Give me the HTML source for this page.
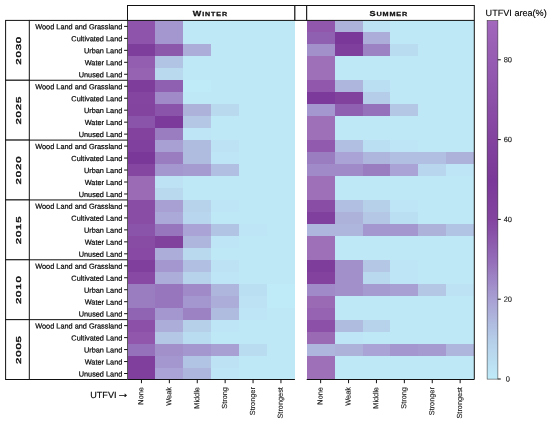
<!DOCTYPE html>
<html><head><meta charset="utf-8"><title>UTFVI heatmap</title>
<style>
html,body{margin:0;padding:0;background:#fff;}
body{width:550px;height:424px;overflow:hidden;}
svg{display:block}
text{font-family:"Liberation Sans",sans-serif;fill:#111;}
.lab{font-size:7.33px;text-anchor:end;fill:#000;stroke:#000;stroke-width:0.2px}
.yr{font-size:7.1px;text-anchor:middle;letter-spacing:0.55px;stroke:#111;stroke-width:0.4px}
.hd{font-size:7.2px;font-weight:bold;text-anchor:middle;letter-spacing:0.7px;stroke:#111;stroke-width:0.25px}
.cat{font-size:7.35px;text-anchor:end;stroke:#111;stroke-width:0.1px}
.tk{font-size:7.5px;text-anchor:middle;stroke:#111;stroke-width:0.1px}
</style></head><body>
<svg width="550" height="424" viewBox="0 0 550 424">
<defs><linearGradient id="cb" x1="0" y1="0" x2="0" y2="1"><stop offset="0.00%" stop-color="#a168bc"/><stop offset="2.22%" stop-color="#9f65ba"/><stop offset="4.44%" stop-color="#9d63b8"/><stop offset="6.67%" stop-color="#9a60b6"/><stop offset="8.89%" stop-color="#985eb4"/><stop offset="11.11%" stop-color="#965bb2"/><stop offset="13.33%" stop-color="#9459b0"/><stop offset="15.56%" stop-color="#9257ae"/><stop offset="17.78%" stop-color="#9054ac"/><stop offset="20.00%" stop-color="#8e52aa"/><stop offset="22.22%" stop-color="#8c50a8"/><stop offset="24.44%" stop-color="#8a4da6"/><stop offset="26.67%" stop-color="#884aa4"/><stop offset="28.89%" stop-color="#8648a2"/><stop offset="31.11%" stop-color="#8445a0"/><stop offset="33.33%" stop-color="#82429e"/><stop offset="35.56%" stop-color="#80409d"/><stop offset="37.78%" stop-color="#7f3e9c"/><stop offset="40.00%" stop-color="#7d3c9a"/><stop offset="42.22%" stop-color="#7c3a99"/><stop offset="44.44%" stop-color="#7a3898"/><stop offset="46.67%" stop-color="#7c3a9a"/><stop offset="48.89%" stop-color="#7e3d9b"/><stop offset="51.11%" stop-color="#7f3f9d"/><stop offset="53.33%" stop-color="#81429e"/><stop offset="55.56%" stop-color="#8344a0"/><stop offset="57.78%" stop-color="#864ca5"/><stop offset="60.00%" stop-color="#8a54aa"/><stop offset="62.22%" stop-color="#8d5cae"/><stop offset="64.44%" stop-color="#9164b3"/><stop offset="66.67%" stop-color="#946cb8"/><stop offset="68.89%" stop-color="#9876bd"/><stop offset="71.11%" stop-color="#9c81c3"/><stop offset="73.33%" stop-color="#a08bc8"/><stop offset="75.56%" stop-color="#a496ce"/><stop offset="77.78%" stop-color="#a8a0d3"/><stop offset="80.00%" stop-color="#aba9d7"/><stop offset="82.22%" stop-color="#adb2db"/><stop offset="84.44%" stop-color="#b0bbe0"/><stop offset="86.67%" stop-color="#b2c4e4"/><stop offset="88.89%" stop-color="#b5cde8"/><stop offset="91.11%" stop-color="#b7d3eb"/><stop offset="93.33%" stop-color="#b9d9ee"/><stop offset="95.56%" stop-color="#bbdff2"/><stop offset="97.78%" stop-color="#bde5f5"/><stop offset="100.00%" stop-color="#bfebf8"/></linearGradient></defs>
<rect width="550" height="424" fill="#fff"/>
<g shape-rendering="crispEdges"><rect x="127.50" y="20.40" width="28.20" height="12.27" fill="#8e53aa"/><rect x="306.70" y="20.40" width="28.20" height="12.27" fill="#9057ac"/><rect x="155.40" y="20.40" width="28.20" height="12.27" fill="#a496ce"/><rect x="334.60" y="20.40" width="28.20" height="12.27" fill="#adb2db"/><rect x="183.30" y="20.40" width="28.20" height="12.27" fill="#bee8f6"/><rect x="362.50" y="20.40" width="28.20" height="12.27" fill="#bce2f3"/><rect x="211.20" y="20.40" width="28.20" height="12.27" fill="#bee8f6"/><rect x="390.40" y="20.40" width="28.20" height="12.27" fill="#bee8f6"/><rect x="239.10" y="20.40" width="28.20" height="12.27" fill="#bee8f6"/><rect x="418.30" y="20.40" width="28.20" height="12.27" fill="#bee8f6"/><rect x="267.00" y="20.40" width="27.90" height="12.27" fill="#bee8f6"/><rect x="446.20" y="20.40" width="27.90" height="12.27" fill="#bee8f6"/><rect x="127.50" y="32.37" width="28.20" height="12.27" fill="#8e53aa"/><rect x="306.70" y="32.37" width="28.20" height="12.27" fill="#8f60b1"/><rect x="155.40" y="32.37" width="28.20" height="12.27" fill="#a496ce"/><rect x="334.60" y="32.37" width="28.20" height="12.27" fill="#7a3898"/><rect x="183.30" y="32.37" width="28.20" height="12.27" fill="#bee8f6"/><rect x="362.50" y="32.37" width="28.20" height="12.27" fill="#acaed9"/><rect x="211.20" y="32.37" width="28.20" height="12.27" fill="#bee8f6"/><rect x="390.40" y="32.37" width="28.20" height="12.27" fill="#bee8f6"/><rect x="239.10" y="32.37" width="28.20" height="12.27" fill="#bee8f6"/><rect x="418.30" y="32.37" width="28.20" height="12.27" fill="#bee8f6"/><rect x="267.00" y="32.37" width="27.90" height="12.27" fill="#bee8f6"/><rect x="446.20" y="32.37" width="27.90" height="12.27" fill="#bee8f6"/><rect x="127.50" y="44.34" width="28.20" height="12.27" fill="#7e3e9c"/><rect x="306.70" y="44.34" width="28.20" height="12.27" fill="#a290cb"/><rect x="155.40" y="44.34" width="28.20" height="12.27" fill="#8c58ac"/><rect x="334.60" y="44.34" width="28.20" height="12.27" fill="#7f3f9d"/><rect x="183.30" y="44.34" width="28.20" height="12.27" fill="#acaed9"/><rect x="362.50" y="44.34" width="28.20" height="12.27" fill="#9c81c3"/><rect x="211.20" y="44.34" width="28.20" height="12.27" fill="#bee8f6"/><rect x="390.40" y="44.34" width="28.20" height="12.27" fill="#badcf0"/><rect x="239.10" y="44.34" width="28.20" height="12.27" fill="#bee8f6"/><rect x="418.30" y="44.34" width="28.20" height="12.27" fill="#bee8f6"/><rect x="267.00" y="44.34" width="27.90" height="12.27" fill="#bee8f6"/><rect x="446.20" y="44.34" width="27.90" height="12.27" fill="#bee8f6"/><rect x="127.50" y="56.31" width="28.20" height="12.27" fill="#945eb0"/><rect x="306.70" y="56.31" width="28.20" height="12.27" fill="#9d70b7"/><rect x="155.40" y="56.31" width="28.20" height="12.27" fill="#b2c4e4"/><rect x="334.60" y="56.31" width="28.20" height="12.27" fill="#bee8f6"/><rect x="183.30" y="56.31" width="28.20" height="12.27" fill="#bee8f6"/><rect x="362.50" y="56.31" width="28.20" height="12.27" fill="#bee8f6"/><rect x="211.20" y="56.31" width="28.20" height="12.27" fill="#bee8f6"/><rect x="390.40" y="56.31" width="28.20" height="12.27" fill="#bee8f6"/><rect x="239.10" y="56.31" width="28.20" height="12.27" fill="#bee8f6"/><rect x="418.30" y="56.31" width="28.20" height="12.27" fill="#bee8f6"/><rect x="267.00" y="56.31" width="27.90" height="12.27" fill="#bee8f6"/><rect x="446.20" y="56.31" width="27.90" height="12.27" fill="#bee8f6"/><rect x="127.50" y="68.28" width="28.20" height="12.27" fill="#9663b2"/><rect x="306.70" y="68.28" width="28.20" height="12.27" fill="#9d70b7"/><rect x="155.40" y="68.28" width="28.20" height="12.27" fill="#b9d9ee"/><rect x="334.60" y="68.28" width="28.20" height="12.27" fill="#bee8f6"/><rect x="183.30" y="68.28" width="28.20" height="12.27" fill="#bee8f6"/><rect x="362.50" y="68.28" width="28.20" height="12.27" fill="#bee8f6"/><rect x="211.20" y="68.28" width="28.20" height="12.27" fill="#bee8f6"/><rect x="390.40" y="68.28" width="28.20" height="12.27" fill="#bee8f6"/><rect x="239.10" y="68.28" width="28.20" height="12.27" fill="#bee8f6"/><rect x="418.30" y="68.28" width="28.20" height="12.27" fill="#bee8f6"/><rect x="267.00" y="68.28" width="27.90" height="12.27" fill="#bee8f6"/><rect x="446.20" y="68.28" width="27.90" height="12.27" fill="#bee8f6"/><rect x="127.50" y="80.25" width="28.20" height="12.27" fill="#7e3d9b"/><rect x="306.70" y="80.25" width="28.20" height="12.27" fill="#9057ac"/><rect x="155.40" y="80.25" width="28.20" height="12.27" fill="#8f60b1"/><rect x="334.60" y="80.25" width="28.20" height="12.27" fill="#aeb6de"/><rect x="183.30" y="80.25" width="28.20" height="12.27" fill="#bfebf8"/><rect x="362.50" y="80.25" width="28.20" height="12.27" fill="#bbdff2"/><rect x="211.20" y="80.25" width="28.20" height="12.27" fill="#bee8f6"/><rect x="390.40" y="80.25" width="28.20" height="12.27" fill="#bee8f6"/><rect x="239.10" y="80.25" width="28.20" height="12.27" fill="#bee8f6"/><rect x="418.30" y="80.25" width="28.20" height="12.27" fill="#bee8f6"/><rect x="267.00" y="80.25" width="27.90" height="12.27" fill="#bee8f6"/><rect x="446.20" y="80.25" width="27.90" height="12.27" fill="#bee8f6"/><rect x="127.50" y="92.22" width="28.20" height="12.27" fill="#8445a0"/><rect x="306.70" y="92.22" width="28.20" height="12.27" fill="#7c3a9a"/><rect x="155.40" y="92.22" width="28.20" height="12.27" fill="#a08bc8"/><rect x="334.60" y="92.22" width="28.20" height="12.27" fill="#81429e"/><rect x="183.30" y="92.22" width="28.20" height="12.27" fill="#bee8f6"/><rect x="362.50" y="92.22" width="28.20" height="12.27" fill="#b5cde8"/><rect x="211.20" y="92.22" width="28.20" height="12.27" fill="#bee8f6"/><rect x="390.40" y="92.22" width="28.20" height="12.27" fill="#bee8f6"/><rect x="239.10" y="92.22" width="28.20" height="12.27" fill="#bee8f6"/><rect x="418.30" y="92.22" width="28.20" height="12.27" fill="#bee8f6"/><rect x="267.00" y="92.22" width="27.90" height="12.27" fill="#bee8f6"/><rect x="446.20" y="92.22" width="27.90" height="12.27" fill="#bee8f6"/><rect x="127.50" y="104.19" width="28.20" height="12.27" fill="#8344a0"/><rect x="306.70" y="104.19" width="28.20" height="12.27" fill="#a496ce"/><rect x="155.40" y="104.19" width="28.20" height="12.27" fill="#8a54aa"/><rect x="334.60" y="104.19" width="28.20" height="12.27" fill="#8f60b1"/><rect x="183.30" y="104.19" width="28.20" height="12.27" fill="#adb2db"/><rect x="362.50" y="104.19" width="28.20" height="12.27" fill="#9671bb"/><rect x="211.20" y="104.19" width="28.20" height="12.27" fill="#b9d9ee"/><rect x="390.40" y="104.19" width="28.20" height="12.27" fill="#b4c8e6"/><rect x="239.10" y="104.19" width="28.20" height="12.27" fill="#bee8f6"/><rect x="418.30" y="104.19" width="28.20" height="12.27" fill="#bee8f6"/><rect x="267.00" y="104.19" width="27.90" height="12.27" fill="#bee8f6"/><rect x="446.20" y="104.19" width="27.90" height="12.27" fill="#bee8f6"/><rect x="127.50" y="116.16" width="28.20" height="12.27" fill="#8a54aa"/><rect x="306.70" y="116.16" width="28.20" height="12.27" fill="#9d70b7"/><rect x="155.40" y="116.16" width="28.20" height="12.27" fill="#7c3a9a"/><rect x="334.60" y="116.16" width="28.20" height="12.27" fill="#bee8f6"/><rect x="183.30" y="116.16" width="28.20" height="12.27" fill="#b4c8e6"/><rect x="362.50" y="116.16" width="28.20" height="12.27" fill="#bee8f6"/><rect x="211.20" y="116.16" width="28.20" height="12.27" fill="#bee8f6"/><rect x="390.40" y="116.16" width="28.20" height="12.27" fill="#bee8f6"/><rect x="239.10" y="116.16" width="28.20" height="12.27" fill="#bee8f6"/><rect x="418.30" y="116.16" width="28.20" height="12.27" fill="#bee8f6"/><rect x="267.00" y="116.16" width="27.90" height="12.27" fill="#bee8f6"/><rect x="446.20" y="116.16" width="27.90" height="12.27" fill="#bee8f6"/><rect x="127.50" y="128.13" width="28.20" height="12.27" fill="#82429e"/><rect x="306.70" y="128.13" width="28.20" height="12.27" fill="#9d70b7"/><rect x="155.40" y="128.13" width="28.20" height="12.27" fill="#9a7cc0"/><rect x="334.60" y="128.13" width="28.20" height="12.27" fill="#bee8f6"/><rect x="183.30" y="128.13" width="28.20" height="12.27" fill="#bde5f5"/><rect x="362.50" y="128.13" width="28.20" height="12.27" fill="#bee8f6"/><rect x="211.20" y="128.13" width="28.20" height="12.27" fill="#bee8f6"/><rect x="390.40" y="128.13" width="28.20" height="12.27" fill="#bee8f6"/><rect x="239.10" y="128.13" width="28.20" height="12.27" fill="#bee8f6"/><rect x="418.30" y="128.13" width="28.20" height="12.27" fill="#bee8f6"/><rect x="267.00" y="128.13" width="27.90" height="12.27" fill="#bee8f6"/><rect x="446.20" y="128.13" width="27.90" height="12.27" fill="#bee8f6"/><rect x="127.50" y="140.10" width="28.20" height="12.27" fill="#80409d"/><rect x="306.70" y="140.10" width="28.20" height="12.27" fill="#925aae"/><rect x="155.40" y="140.10" width="28.20" height="12.27" fill="#a8a0d3"/><rect x="334.60" y="140.10" width="28.20" height="12.27" fill="#b1c0e2"/><rect x="183.30" y="140.10" width="28.20" height="12.27" fill="#b0bbe0"/><rect x="362.50" y="140.10" width="28.20" height="12.27" fill="#bbdff2"/><rect x="211.20" y="140.10" width="28.20" height="12.27" fill="#bce2f3"/><rect x="390.40" y="140.10" width="28.20" height="12.27" fill="#bde5f5"/><rect x="239.10" y="140.10" width="28.20" height="12.27" fill="#bee8f6"/><rect x="418.30" y="140.10" width="28.20" height="12.27" fill="#bee8f6"/><rect x="267.00" y="140.10" width="27.90" height="12.27" fill="#bee8f6"/><rect x="446.20" y="140.10" width="27.90" height="12.27" fill="#bee8f6"/><rect x="127.50" y="152.07" width="28.20" height="12.27" fill="#7a3898"/><rect x="306.70" y="152.07" width="28.20" height="12.27" fill="#9a7cc0"/><rect x="155.40" y="152.07" width="28.20" height="12.27" fill="#9a7cc0"/><rect x="334.60" y="152.07" width="28.20" height="12.27" fill="#a9a4d5"/><rect x="183.30" y="152.07" width="28.20" height="12.27" fill="#b0bbe0"/><rect x="362.50" y="152.07" width="28.20" height="12.27" fill="#aeb6de"/><rect x="211.20" y="152.07" width="28.20" height="12.27" fill="#bde5f5"/><rect x="390.40" y="152.07" width="28.20" height="12.27" fill="#b1c0e2"/><rect x="239.10" y="152.07" width="28.20" height="12.27" fill="#bee8f6"/><rect x="418.30" y="152.07" width="28.20" height="12.27" fill="#b1c0e2"/><rect x="267.00" y="152.07" width="27.90" height="12.27" fill="#bee8f6"/><rect x="446.20" y="152.07" width="27.90" height="12.27" fill="#adb2db"/><rect x="127.50" y="164.04" width="28.20" height="12.27" fill="#8546a1"/><rect x="306.70" y="164.04" width="28.20" height="12.27" fill="#a08bc8"/><rect x="155.40" y="164.04" width="28.20" height="12.27" fill="#a496ce"/><rect x="334.60" y="164.04" width="28.20" height="12.27" fill="#a08bc8"/><rect x="183.30" y="164.04" width="28.20" height="12.27" fill="#a69bd0"/><rect x="362.50" y="164.04" width="28.20" height="12.27" fill="#9a7cc0"/><rect x="211.20" y="164.04" width="28.20" height="12.27" fill="#b1c0e2"/><rect x="390.40" y="164.04" width="28.20" height="12.27" fill="#a9a4d5"/><rect x="239.10" y="164.04" width="28.20" height="12.27" fill="#bee8f6"/><rect x="418.30" y="164.04" width="28.20" height="12.27" fill="#b8d6ed"/><rect x="267.00" y="164.04" width="27.90" height="12.27" fill="#bee8f6"/><rect x="446.20" y="164.04" width="27.90" height="12.27" fill="#bde5f5"/><rect x="127.50" y="176.01" width="28.20" height="12.27" fill="#9b6cb5"/><rect x="306.70" y="176.01" width="28.20" height="12.27" fill="#9d70b7"/><rect x="155.40" y="176.01" width="28.20" height="12.27" fill="#bce2f3"/><rect x="334.60" y="176.01" width="28.20" height="12.27" fill="#bee8f6"/><rect x="183.30" y="176.01" width="28.20" height="12.27" fill="#bee8f6"/><rect x="362.50" y="176.01" width="28.20" height="12.27" fill="#bee8f6"/><rect x="211.20" y="176.01" width="28.20" height="12.27" fill="#bee8f6"/><rect x="390.40" y="176.01" width="28.20" height="12.27" fill="#bee8f6"/><rect x="239.10" y="176.01" width="28.20" height="12.27" fill="#bee8f6"/><rect x="418.30" y="176.01" width="28.20" height="12.27" fill="#bee8f6"/><rect x="267.00" y="176.01" width="27.90" height="12.27" fill="#bee8f6"/><rect x="446.20" y="176.01" width="27.90" height="12.27" fill="#bee8f6"/><rect x="127.50" y="187.98" width="28.20" height="12.27" fill="#9b6cb5"/><rect x="306.70" y="187.98" width="28.20" height="12.27" fill="#9d70b7"/><rect x="155.40" y="187.98" width="28.20" height="12.27" fill="#b9d9ee"/><rect x="334.60" y="187.98" width="28.20" height="12.27" fill="#bee8f6"/><rect x="183.30" y="187.98" width="28.20" height="12.27" fill="#bee8f6"/><rect x="362.50" y="187.98" width="28.20" height="12.27" fill="#bee8f6"/><rect x="211.20" y="187.98" width="28.20" height="12.27" fill="#bee8f6"/><rect x="390.40" y="187.98" width="28.20" height="12.27" fill="#bee8f6"/><rect x="239.10" y="187.98" width="28.20" height="12.27" fill="#bee8f6"/><rect x="418.30" y="187.98" width="28.20" height="12.27" fill="#bee8f6"/><rect x="267.00" y="187.98" width="27.90" height="12.27" fill="#bee8f6"/><rect x="446.20" y="187.98" width="27.90" height="12.27" fill="#bee8f6"/><rect x="127.50" y="199.95" width="28.20" height="12.27" fill="#8a4da6"/><rect x="306.70" y="199.95" width="28.20" height="12.27" fill="#8a4da6"/><rect x="155.40" y="199.95" width="28.20" height="12.27" fill="#a8a0d3"/><rect x="334.60" y="199.95" width="28.20" height="12.27" fill="#b1c0e2"/><rect x="183.30" y="199.95" width="28.20" height="12.27" fill="#b7d3eb"/><rect x="362.50" y="199.95" width="28.20" height="12.27" fill="#b6d0ea"/><rect x="211.20" y="199.95" width="28.20" height="12.27" fill="#bde5f5"/><rect x="390.40" y="199.95" width="28.20" height="12.27" fill="#bde5f5"/><rect x="239.10" y="199.95" width="28.20" height="12.27" fill="#bee8f6"/><rect x="418.30" y="199.95" width="28.20" height="12.27" fill="#bee8f6"/><rect x="267.00" y="199.95" width="27.90" height="12.27" fill="#bee8f6"/><rect x="446.20" y="199.95" width="27.90" height="12.27" fill="#bee8f6"/><rect x="127.50" y="211.92" width="28.20" height="12.27" fill="#8a4da6"/><rect x="306.70" y="211.92" width="28.20" height="12.27" fill="#80409d"/><rect x="155.40" y="211.92" width="28.20" height="12.27" fill="#aba9d7"/><rect x="334.60" y="211.92" width="28.20" height="12.27" fill="#adb2db"/><rect x="183.30" y="211.92" width="28.20" height="12.27" fill="#b8d6ed"/><rect x="362.50" y="211.92" width="28.20" height="12.27" fill="#b4c8e6"/><rect x="211.20" y="211.92" width="28.20" height="12.27" fill="#bee8f6"/><rect x="390.40" y="211.92" width="28.20" height="12.27" fill="#bbdff2"/><rect x="239.10" y="211.92" width="28.20" height="12.27" fill="#bee8f6"/><rect x="418.30" y="211.92" width="28.20" height="12.27" fill="#bee8f6"/><rect x="267.00" y="211.92" width="27.90" height="12.27" fill="#bee8f6"/><rect x="446.20" y="211.92" width="27.90" height="12.27" fill="#bee8f6"/><rect x="127.50" y="223.89" width="28.20" height="12.27" fill="#8a54aa"/><rect x="306.70" y="223.89" width="28.20" height="12.27" fill="#aeb6de"/><rect x="155.40" y="223.89" width="28.20" height="12.27" fill="#9876bd"/><rect x="334.60" y="223.89" width="28.20" height="12.27" fill="#aeb6de"/><rect x="183.30" y="223.89" width="28.20" height="12.27" fill="#a9a4d5"/><rect x="362.50" y="223.89" width="28.20" height="12.27" fill="#a496ce"/><rect x="211.20" y="223.89" width="28.20" height="12.27" fill="#b2c4e4"/><rect x="390.40" y="223.89" width="28.20" height="12.27" fill="#a496ce"/><rect x="239.10" y="223.89" width="28.20" height="12.27" fill="#bde5f5"/><rect x="418.30" y="223.89" width="28.20" height="12.27" fill="#adb2db"/><rect x="267.00" y="223.89" width="27.90" height="12.27" fill="#bee8f6"/><rect x="446.20" y="223.89" width="27.90" height="12.27" fill="#b2c4e4"/><rect x="127.50" y="235.86" width="28.20" height="12.27" fill="#894ca5"/><rect x="306.70" y="235.86" width="28.20" height="12.27" fill="#9d70b7"/><rect x="155.40" y="235.86" width="28.20" height="12.27" fill="#81429e"/><rect x="334.60" y="235.86" width="28.20" height="12.27" fill="#bee8f6"/><rect x="183.30" y="235.86" width="28.20" height="12.27" fill="#aeb6de"/><rect x="362.50" y="235.86" width="28.20" height="12.27" fill="#bee8f6"/><rect x="211.20" y="235.86" width="28.20" height="12.27" fill="#bde5f5"/><rect x="390.40" y="235.86" width="28.20" height="12.27" fill="#bee8f6"/><rect x="239.10" y="235.86" width="28.20" height="12.27" fill="#bee8f6"/><rect x="418.30" y="235.86" width="28.20" height="12.27" fill="#bee8f6"/><rect x="267.00" y="235.86" width="27.90" height="12.27" fill="#bee8f6"/><rect x="446.20" y="235.86" width="27.90" height="12.27" fill="#bee8f6"/><rect x="127.50" y="247.83" width="28.20" height="12.27" fill="#8749a3"/><rect x="306.70" y="247.83" width="28.20" height="12.27" fill="#9d70b7"/><rect x="155.40" y="247.83" width="28.20" height="12.27" fill="#acaed9"/><rect x="334.60" y="247.83" width="28.20" height="12.27" fill="#bee8f6"/><rect x="183.30" y="247.83" width="28.20" height="12.27" fill="#b9d9ee"/><rect x="362.50" y="247.83" width="28.20" height="12.27" fill="#bee8f6"/><rect x="211.20" y="247.83" width="28.20" height="12.27" fill="#bee8f6"/><rect x="390.40" y="247.83" width="28.20" height="12.27" fill="#bee8f6"/><rect x="239.10" y="247.83" width="28.20" height="12.27" fill="#bee8f6"/><rect x="418.30" y="247.83" width="28.20" height="12.27" fill="#bee8f6"/><rect x="267.00" y="247.83" width="27.90" height="12.27" fill="#bee8f6"/><rect x="446.20" y="247.83" width="27.90" height="12.27" fill="#bee8f6"/><rect x="127.50" y="259.80" width="28.20" height="12.27" fill="#803f9c"/><rect x="306.70" y="259.80" width="28.20" height="12.27" fill="#7e3d9b"/><rect x="155.40" y="259.80" width="28.20" height="12.27" fill="#a496ce"/><rect x="334.60" y="259.80" width="28.20" height="12.27" fill="#a290cb"/><rect x="183.30" y="259.80" width="28.20" height="12.27" fill="#b1c0e2"/><rect x="362.50" y="259.80" width="28.20" height="12.27" fill="#b4c8e6"/><rect x="211.20" y="259.80" width="28.20" height="12.27" fill="#bce2f3"/><rect x="390.40" y="259.80" width="28.20" height="12.27" fill="#bde5f5"/><rect x="239.10" y="259.80" width="28.20" height="12.27" fill="#bee8f6"/><rect x="418.30" y="259.80" width="28.20" height="12.27" fill="#bee8f6"/><rect x="267.00" y="259.80" width="27.90" height="12.27" fill="#bee8f6"/><rect x="446.20" y="259.80" width="27.90" height="12.27" fill="#bee8f6"/><rect x="127.50" y="271.77" width="28.20" height="12.27" fill="#8749a3"/><rect x="306.70" y="271.77" width="28.20" height="12.27" fill="#82429e"/><rect x="155.40" y="271.77" width="28.20" height="12.27" fill="#acaed9"/><rect x="334.60" y="271.77" width="28.20" height="12.27" fill="#a290cb"/><rect x="183.30" y="271.77" width="28.20" height="12.27" fill="#b7d3eb"/><rect x="362.50" y="271.77" width="28.20" height="12.27" fill="#b9d9ee"/><rect x="211.20" y="271.77" width="28.20" height="12.27" fill="#bde5f5"/><rect x="390.40" y="271.77" width="28.20" height="12.27" fill="#bde5f5"/><rect x="239.10" y="271.77" width="28.20" height="12.27" fill="#bee8f6"/><rect x="418.30" y="271.77" width="28.20" height="12.27" fill="#bee8f6"/><rect x="267.00" y="271.77" width="27.90" height="12.27" fill="#bee8f6"/><rect x="446.20" y="271.77" width="27.90" height="12.27" fill="#bee8f6"/><rect x="127.50" y="283.74" width="28.20" height="12.27" fill="#9a7cc0"/><rect x="306.70" y="283.74" width="28.20" height="12.27" fill="#a08bc8"/><rect x="155.40" y="283.74" width="28.20" height="12.27" fill="#9876bd"/><rect x="334.60" y="283.74" width="28.20" height="12.27" fill="#a290cb"/><rect x="183.30" y="283.74" width="28.20" height="12.27" fill="#a08bc8"/><rect x="362.50" y="283.74" width="28.20" height="12.27" fill="#a69bd0"/><rect x="211.20" y="283.74" width="28.20" height="12.27" fill="#aeb6de"/><rect x="390.40" y="283.74" width="28.20" height="12.27" fill="#a8a0d3"/><rect x="239.10" y="283.74" width="28.20" height="12.27" fill="#bbdff2"/><rect x="418.30" y="283.74" width="28.20" height="12.27" fill="#b4c8e6"/><rect x="267.00" y="283.74" width="27.90" height="12.27" fill="#bfebf8"/><rect x="446.20" y="283.74" width="27.90" height="12.27" fill="#bce2f3"/><rect x="127.50" y="295.71" width="28.20" height="12.27" fill="#9a7cc0"/><rect x="306.70" y="295.71" width="28.20" height="12.27" fill="#9a6ab4"/><rect x="155.40" y="295.71" width="28.20" height="12.27" fill="#9876bd"/><rect x="334.60" y="295.71" width="28.20" height="12.27" fill="#bee8f6"/><rect x="183.30" y="295.71" width="28.20" height="12.27" fill="#a496ce"/><rect x="362.50" y="295.71" width="28.20" height="12.27" fill="#bee8f6"/><rect x="211.20" y="295.71" width="28.20" height="12.27" fill="#acaed9"/><rect x="390.40" y="295.71" width="28.20" height="12.27" fill="#bee8f6"/><rect x="239.10" y="295.71" width="28.20" height="12.27" fill="#bce2f3"/><rect x="418.30" y="295.71" width="28.20" height="12.27" fill="#bee8f6"/><rect x="267.00" y="295.71" width="27.90" height="12.27" fill="#bfebf8"/><rect x="446.20" y="295.71" width="27.90" height="12.27" fill="#bee8f6"/><rect x="127.50" y="307.68" width="28.20" height="12.27" fill="#9164b3"/><rect x="306.70" y="307.68" width="28.20" height="12.27" fill="#9663b2"/><rect x="155.40" y="307.68" width="28.20" height="12.27" fill="#a496ce"/><rect x="334.60" y="307.68" width="28.20" height="12.27" fill="#bee8f6"/><rect x="183.30" y="307.68" width="28.20" height="12.27" fill="#9c81c3"/><rect x="362.50" y="307.68" width="28.20" height="12.27" fill="#bee8f6"/><rect x="211.20" y="307.68" width="28.20" height="12.27" fill="#b0bbe0"/><rect x="390.40" y="307.68" width="28.20" height="12.27" fill="#bee8f6"/><rect x="239.10" y="307.68" width="28.20" height="12.27" fill="#bde5f5"/><rect x="418.30" y="307.68" width="28.20" height="12.27" fill="#bee8f6"/><rect x="267.00" y="307.68" width="27.90" height="12.27" fill="#bee8f6"/><rect x="446.20" y="307.68" width="27.90" height="12.27" fill="#bee8f6"/><rect x="127.50" y="319.65" width="28.20" height="12.27" fill="#8c50a8"/><rect x="306.70" y="319.65" width="28.20" height="12.27" fill="#8c50a8"/><rect x="155.40" y="319.65" width="28.20" height="12.27" fill="#acaed9"/><rect x="334.60" y="319.65" width="28.20" height="12.27" fill="#b0bbe0"/><rect x="183.30" y="319.65" width="28.20" height="12.27" fill="#b6d0ea"/><rect x="362.50" y="319.65" width="28.20" height="12.27" fill="#b7d3eb"/><rect x="211.20" y="319.65" width="28.20" height="12.27" fill="#bde5f5"/><rect x="390.40" y="319.65" width="28.20" height="12.27" fill="#bee8f6"/><rect x="239.10" y="319.65" width="28.20" height="12.27" fill="#bee8f6"/><rect x="418.30" y="319.65" width="28.20" height="12.27" fill="#bee8f6"/><rect x="267.00" y="319.65" width="27.90" height="12.27" fill="#bee8f6"/><rect x="446.20" y="319.65" width="27.90" height="12.27" fill="#bee8f6"/><rect x="127.50" y="331.62" width="28.20" height="12.27" fill="#9057ac"/><rect x="306.70" y="331.62" width="28.20" height="12.27" fill="#9a6ab4"/><rect x="155.40" y="331.62" width="28.20" height="12.27" fill="#b4c8e6"/><rect x="334.60" y="331.62" width="28.20" height="12.27" fill="#bde5f5"/><rect x="183.30" y="331.62" width="28.20" height="12.27" fill="#badcf0"/><rect x="362.50" y="331.62" width="28.20" height="12.27" fill="#bee8f6"/><rect x="211.20" y="331.62" width="28.20" height="12.27" fill="#bee8f6"/><rect x="390.40" y="331.62" width="28.20" height="12.27" fill="#bee8f6"/><rect x="239.10" y="331.62" width="28.20" height="12.27" fill="#bee8f6"/><rect x="418.30" y="331.62" width="28.20" height="12.27" fill="#bee8f6"/><rect x="267.00" y="331.62" width="27.90" height="12.27" fill="#bee8f6"/><rect x="446.20" y="331.62" width="27.90" height="12.27" fill="#bee8f6"/><rect x="127.50" y="343.59" width="28.20" height="12.27" fill="#9671bb"/><rect x="306.70" y="343.59" width="28.20" height="12.27" fill="#aeb6de"/><rect x="155.40" y="343.59" width="28.20" height="12.27" fill="#a290cb"/><rect x="334.60" y="343.59" width="28.20" height="12.27" fill="#adb2db"/><rect x="183.30" y="343.59" width="28.20" height="12.27" fill="#a496ce"/><rect x="362.50" y="343.59" width="28.20" height="12.27" fill="#a9a4d5"/><rect x="211.20" y="343.59" width="28.20" height="12.27" fill="#a8a0d3"/><rect x="390.40" y="343.59" width="28.20" height="12.27" fill="#a496ce"/><rect x="239.10" y="343.59" width="28.20" height="12.27" fill="#badcf0"/><rect x="418.30" y="343.59" width="28.20" height="12.27" fill="#a69bd0"/><rect x="267.00" y="343.59" width="27.90" height="12.27" fill="#bee8f6"/><rect x="446.20" y="343.59" width="27.90" height="12.27" fill="#aeb6de"/><rect x="127.50" y="355.56" width="28.20" height="12.27" fill="#803f9c"/><rect x="306.70" y="355.56" width="28.20" height="12.27" fill="#9d70b7"/><rect x="155.40" y="355.56" width="28.20" height="12.27" fill="#a496ce"/><rect x="334.60" y="355.56" width="28.20" height="12.27" fill="#bee8f6"/><rect x="183.30" y="355.56" width="28.20" height="12.27" fill="#b2c4e4"/><rect x="362.50" y="355.56" width="28.20" height="12.27" fill="#bee8f6"/><rect x="211.20" y="355.56" width="28.20" height="12.27" fill="#bce2f3"/><rect x="390.40" y="355.56" width="28.20" height="12.27" fill="#bee8f6"/><rect x="239.10" y="355.56" width="28.20" height="12.27" fill="#bee8f6"/><rect x="418.30" y="355.56" width="28.20" height="12.27" fill="#bee8f6"/><rect x="267.00" y="355.56" width="27.90" height="12.27" fill="#bee8f6"/><rect x="446.20" y="355.56" width="27.90" height="12.27" fill="#bee8f6"/><rect x="127.50" y="367.53" width="28.20" height="12.27" fill="#803f9c"/><rect x="306.70" y="367.53" width="28.20" height="12.27" fill="#9d70b7"/><rect x="155.40" y="367.53" width="28.20" height="12.27" fill="#a9a4d5"/><rect x="334.60" y="367.53" width="28.20" height="12.27" fill="#bee8f6"/><rect x="183.30" y="367.53" width="28.20" height="12.27" fill="#aeb6de"/><rect x="362.50" y="367.53" width="28.20" height="12.27" fill="#bee8f6"/><rect x="211.20" y="367.53" width="28.20" height="12.27" fill="#bde5f5"/><rect x="390.40" y="367.53" width="28.20" height="12.27" fill="#bee8f6"/><rect x="239.10" y="367.53" width="28.20" height="12.27" fill="#bee8f6"/><rect x="418.30" y="367.53" width="28.20" height="12.27" fill="#bee8f6"/><rect x="267.00" y="367.53" width="27.90" height="12.27" fill="#bee8f6"/><rect x="446.20" y="367.53" width="27.90" height="12.27" fill="#bee8f6"/></g>
<g fill="none" stroke="#111" stroke-width="1">
<rect x="127.5" y="5.5" width="167.4" height="14.899999999999999" fill="#fff"/>
<rect x="294.9" y="5.5" width="11.799999999999983" height="14.899999999999999" fill="#fff"/>
<rect x="306.7" y="5.5" width="167.6" height="14.899999999999999" fill="#fff"/>
<rect x="5.6" y="20.40" width="23.7" height="59.85" fill="#fff"/>
<line x1="29.3" y1="20.40" x2="127.5" y2="20.40"/>
<rect x="5.6" y="80.25" width="23.7" height="59.85" fill="#fff"/>
<line x1="29.3" y1="80.25" x2="127.5" y2="80.25"/>
<rect x="5.6" y="140.10" width="23.7" height="59.85" fill="#fff"/>
<line x1="29.3" y1="140.10" x2="127.5" y2="140.10"/>
<rect x="5.6" y="199.95" width="23.7" height="59.85" fill="#fff"/>
<line x1="29.3" y1="199.95" x2="127.5" y2="199.95"/>
<rect x="5.6" y="259.80" width="23.7" height="59.85" fill="#fff"/>
<line x1="29.3" y1="259.80" x2="127.5" y2="259.80"/>
<rect x="5.6" y="319.65" width="23.7" height="59.85" fill="#fff"/>
<line x1="29.3" y1="319.65" x2="127.5" y2="319.65"/>
<line x1="29.3" y1="379.50" x2="127.5" y2="379.50"/>
<line x1="127.5" y1="20.4" x2="127.5" y2="379.50" stroke-width="0.7"/>
<line x1="127.5" y1="379.50" x2="294.9" y2="379.50"/>
<line x1="306.7" y1="379.50" x2="474.3" y2="379.50"/>
<line x1="474.3" y1="20.4" x2="474.3" y2="379.50"/>
<line x1="124.1" y1="26.38" x2="127.5" y2="26.38"/>
<line x1="124.1" y1="38.36" x2="127.5" y2="38.36"/>
<line x1="124.1" y1="50.33" x2="127.5" y2="50.33"/>
<line x1="124.1" y1="62.30" x2="127.5" y2="62.30"/>
<line x1="124.1" y1="74.27" x2="127.5" y2="74.27"/>
<line x1="124.1" y1="86.24" x2="127.5" y2="86.24"/>
<line x1="124.1" y1="98.21" x2="127.5" y2="98.21"/>
<line x1="124.1" y1="110.18" x2="127.5" y2="110.18"/>
<line x1="124.1" y1="122.15" x2="127.5" y2="122.15"/>
<line x1="124.1" y1="134.12" x2="127.5" y2="134.12"/>
<line x1="124.1" y1="146.09" x2="127.5" y2="146.09"/>
<line x1="124.1" y1="158.06" x2="127.5" y2="158.06"/>
<line x1="124.1" y1="170.03" x2="127.5" y2="170.03"/>
<line x1="124.1" y1="182.00" x2="127.5" y2="182.00"/>
<line x1="124.1" y1="193.97" x2="127.5" y2="193.97"/>
<line x1="124.1" y1="205.94" x2="127.5" y2="205.94"/>
<line x1="124.1" y1="217.91" x2="127.5" y2="217.91"/>
<line x1="124.1" y1="229.88" x2="127.5" y2="229.88"/>
<line x1="124.1" y1="241.85" x2="127.5" y2="241.85"/>
<line x1="124.1" y1="253.82" x2="127.5" y2="253.82"/>
<line x1="124.1" y1="265.79" x2="127.5" y2="265.79"/>
<line x1="124.1" y1="277.75" x2="127.5" y2="277.75"/>
<line x1="124.1" y1="289.72" x2="127.5" y2="289.72"/>
<line x1="124.1" y1="301.69" x2="127.5" y2="301.69"/>
<line x1="124.1" y1="313.67" x2="127.5" y2="313.67"/>
<line x1="124.1" y1="325.63" x2="127.5" y2="325.63"/>
<line x1="124.1" y1="337.61" x2="127.5" y2="337.61"/>
<line x1="124.1" y1="349.57" x2="127.5" y2="349.57"/>
<line x1="124.1" y1="361.55" x2="127.5" y2="361.55"/>
<line x1="124.1" y1="373.51" x2="127.5" y2="373.51"/>
<line x1="141.45" y1="379.50" x2="141.45" y2="383.20"/>
<line x1="320.65" y1="379.50" x2="320.65" y2="383.20"/>
<line x1="169.35" y1="379.50" x2="169.35" y2="383.20"/>
<line x1="348.55" y1="379.50" x2="348.55" y2="383.20"/>
<line x1="197.25" y1="379.50" x2="197.25" y2="383.20"/>
<line x1="376.45" y1="379.50" x2="376.45" y2="383.20"/>
<line x1="225.15" y1="379.50" x2="225.15" y2="383.20"/>
<line x1="404.35" y1="379.50" x2="404.35" y2="383.20"/>
<line x1="253.05" y1="379.50" x2="253.05" y2="383.20"/>
<line x1="432.25" y1="379.50" x2="432.25" y2="383.20"/>
<line x1="280.95" y1="379.50" x2="280.95" y2="383.20"/>
<line x1="460.15" y1="379.50" x2="460.15" y2="383.20"/>
</g>
<rect x="487.1" y="20.5" width="10.8" height="358.60" fill="url(#cb)" stroke="#2a2a2a" stroke-width="0.5"/>
<line x1="497.8" y1="379.00" x2="500.8" y2="379.00" stroke="#111" stroke-width="1"/>
<text class="tk" transform="translate(507.8,381.50) rotate(0.03)">0</text>
<line x1="497.8" y1="299.20" x2="500.8" y2="299.20" stroke="#111" stroke-width="1"/>
<text class="tk" transform="translate(507.8,301.70) rotate(0.03)">20</text>
<line x1="497.8" y1="219.40" x2="500.8" y2="219.40" stroke="#111" stroke-width="1"/>
<text class="tk" transform="translate(507.8,221.90) rotate(0.03)">40</text>
<line x1="497.8" y1="139.60" x2="500.8" y2="139.60" stroke="#111" stroke-width="1"/>
<text class="tk" transform="translate(507.8,142.10) rotate(0.03)">60</text>
<line x1="497.8" y1="59.80" x2="500.8" y2="59.80" stroke="#111" stroke-width="1"/>
<text class="tk" transform="translate(507.8,62.30) rotate(0.03)">80</text>
<text transform="translate(485.6,15.9) rotate(0.03)" style="font-size:9.1px;fill:#000;stroke:#000;stroke-width:0.12px">UTFVI area(%)</text>
<text class="yr" transform="translate(20.9,50.33) rotate(-89.97) scale(1.6,1)">2030</text>
<text class="lab" transform="translate(122.30,29.33) rotate(0.03)">Wood Land and Grassland</text>
<text class="lab" transform="translate(122.30,41.31) rotate(0.03)">Cultivated Land</text>
<text class="lab" transform="translate(122.30,53.28) rotate(0.03)">Urban Land</text>
<text class="lab" transform="translate(122.30,65.25) rotate(0.03)">Water Land</text>
<text class="lab" transform="translate(122.30,77.22) rotate(0.03)">Unused Land</text>
<text class="yr" transform="translate(20.9,110.18) rotate(-89.97) scale(1.6,1)">2025</text>
<text class="lab" transform="translate(122.30,89.19) rotate(0.03)">Wood Land and Grassland</text>
<text class="lab" transform="translate(122.30,101.16) rotate(0.03)">Cultivated Land</text>
<text class="lab" transform="translate(122.30,113.13) rotate(0.03)">Urban Land</text>
<text class="lab" transform="translate(122.30,125.10) rotate(0.03)">Water Land</text>
<text class="lab" transform="translate(122.30,137.06) rotate(0.03)">Unused Land</text>
<text class="yr" transform="translate(20.9,170.03) rotate(-89.97) scale(1.6,1)">2020</text>
<text class="lab" transform="translate(122.30,149.03) rotate(0.03)">Wood Land and Grassland</text>
<text class="lab" transform="translate(122.30,161.00) rotate(0.03)">Cultivated Land</text>
<text class="lab" transform="translate(122.30,172.97) rotate(0.03)">Urban Land</text>
<text class="lab" transform="translate(122.30,184.94) rotate(0.03)">Water Land</text>
<text class="lab" transform="translate(122.30,196.91) rotate(0.03)">Unused Land</text>
<text class="yr" transform="translate(20.9,229.88) rotate(-89.97) scale(1.6,1)">2015</text>
<text class="lab" transform="translate(122.30,208.88) rotate(0.03)">Wood Land and Grassland</text>
<text class="lab" transform="translate(122.30,220.86) rotate(0.03)">Cultivated Land</text>
<text class="lab" transform="translate(122.30,232.83) rotate(0.03)">Urban Land</text>
<text class="lab" transform="translate(122.30,244.80) rotate(0.03)">Water Land</text>
<text class="lab" transform="translate(122.30,256.77) rotate(0.03)">Unused Land</text>
<text class="yr" transform="translate(20.9,289.72) rotate(-89.97) scale(1.6,1)">2010</text>
<text class="lab" transform="translate(122.30,268.74) rotate(0.03)">Wood Land and Grassland</text>
<text class="lab" transform="translate(122.30,280.70) rotate(0.03)">Cultivated Land</text>
<text class="lab" transform="translate(122.30,292.67) rotate(0.03)">Urban Land</text>
<text class="lab" transform="translate(122.30,304.64) rotate(0.03)">Water Land</text>
<text class="lab" transform="translate(122.30,316.62) rotate(0.03)">Unused Land</text>
<text class="yr" transform="translate(20.9,349.57) rotate(-89.97) scale(1.6,1)">2005</text>
<text class="lab" transform="translate(122.30,328.58) rotate(0.03)">Wood Land and Grassland</text>
<text class="lab" transform="translate(122.30,340.56) rotate(0.03)">Cultivated Land</text>
<text class="lab" transform="translate(122.30,352.52) rotate(0.03)">Urban Land</text>
<text class="lab" transform="translate(122.30,364.50) rotate(0.03)">Water Land</text>
<text class="lab" transform="translate(122.30,376.46) rotate(0.03)">Unused Land</text>
<text class="hd" transform="translate(210.39999999999998,15.8) scale(1.25,1)">W<tspan font-size="5.7px">INTER</tspan></text>
<text class="hd" transform="translate(388.79999999999995,15.8) scale(1.27,1)">S<tspan font-size="5.7px">UMMER</tspan></text>
<text class="cat" transform="translate(143.35,387.10) rotate(-89.97)">None</text>
<text class="cat" transform="translate(322.55,387.10) rotate(-89.97)">None</text>
<text class="cat" transform="translate(171.25,387.10) rotate(-89.97)">Weak</text>
<text class="cat" transform="translate(350.45,387.10) rotate(-89.97)">Weak</text>
<text class="cat" transform="translate(199.15,387.10) rotate(-89.97)">Middle</text>
<text class="cat" transform="translate(378.35,387.10) rotate(-89.97)">Middle</text>
<text class="cat" transform="translate(227.05,387.10) rotate(-89.97)">Strong</text>
<text class="cat" transform="translate(406.25,387.10) rotate(-89.97)">Strong</text>
<text class="cat" transform="translate(254.95,387.10) rotate(-89.97)">Stronger</text>
<text class="cat" transform="translate(434.15,387.10) rotate(-89.97)">Stronger</text>
<text class="cat" transform="translate(282.85,387.10) rotate(-89.97)">Strongest</text>
<text class="cat" transform="translate(462.05,387.10) rotate(-89.97)">Strongest</text>
<text transform="translate(90.2,398.1) rotate(0.03)" style="font-size:9.1px;fill:#000;stroke:#000;stroke-width:0.15px">UTFVI<tspan style="font-size:12.5px;stroke-width:0.3px" dx="0.4" dy="-0.5">→</tspan></text>
</svg></body></html>
